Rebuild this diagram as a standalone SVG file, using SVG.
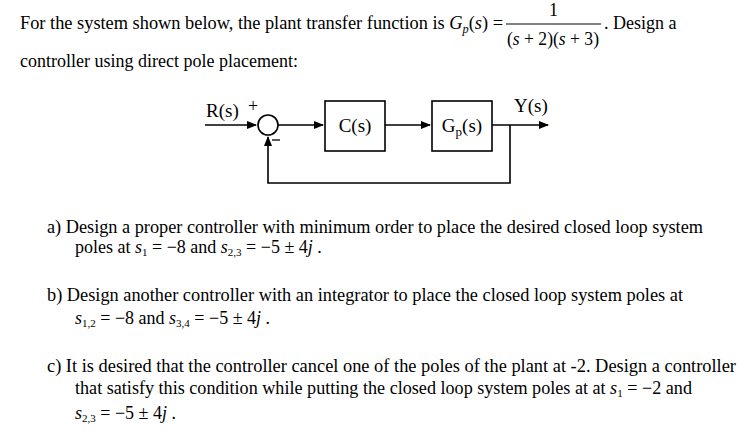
<svg xmlns="http://www.w3.org/2000/svg" width="746" height="445" viewBox="0 0 746 445">
<style>
text{font-family:"Liberation Serif",serif;font-size:18px;fill:#000}
.i{font-style:italic}
.l{stroke:#000;stroke-width:1.6;fill:none}
.b{stroke:#000;stroke-width:1.6;fill:#fff}
.d{font-size:19px}
</style>
<defs><marker id="a" markerWidth="10" markerHeight="8" refX="9" refY="4" orient="auto" markerUnits="userSpaceOnUse"><path d="M0,0L10,4L0,8z"/></marker></defs>
<rect width="746" height="445" fill="#fff"/>
<text x="20" y="29" textLength="483" lengthAdjust="spacingAndGlyphs">For the system shown below, the plant transfer function is <tspan class="i">G</tspan><tspan class="i" font-size="12" dy="4">p</tspan><tspan dy="-4">(</tspan><tspan class="i">s</tspan>) =</text>
<line x1="506" y1="24" x2="601" y2="24" stroke="#000" stroke-width="1"/>
<text x="549" y="16" font-size="14">1</text>
<text x="507" y="45" textLength="92" lengthAdjust="spacingAndGlyphs">(<tspan class="i">s</tspan> + 2)(<tspan class="i">s</tspan> + 3)</text>
<text x="604" y="29">.  Design a</text>
<text x="20" y="67">controller using direct pole placement:</text>
<g id="connectors">
<path class="l" d="M205,125H256" marker-end="url(#a)"/>
<path class="l" d="M278,125H323" marker-end="url(#a)"/>
<path class="l" d="M385,125H430" marker-end="url(#a)"/>
<path class="l" d="M492,125H548" marker-end="url(#a)"/>
<path class="l" d="M510,125V183H268V137" marker-end="url(#a)"/>
</g>
<g id="sum"><circle class="b" cx="268" cy="125" r="10"/></g>
<g id="C"><rect class="b" x="325" y="101" width="60" height="50"/><text class="d" x="355" y="132" text-anchor="middle">C(s)</text></g>
<g id="Gp"><rect class="b" x="432" y="101" width="60" height="50"/><text class="d" x="462" y="132" text-anchor="middle">G<tspan font-size="13" dy="4">p</tspan><tspan dy="-4">(s)</tspan></text></g>
<text class="d" x="206" y="117">R(s)</text>
<text x="248" y="112" font-size="17">+</text>
<line x1="272" y1="140" x2="280" y2="140" stroke="#000" stroke-width="1.3"/>
<text class="d" x="514" y="112">Y(s)</text>
<text x="47" y="233" textLength="656" lengthAdjust="spacingAndGlyphs">a)  Design a proper controller with minimum order to place the desired closed loop system</text>
<text x="75" y="253">poles at <tspan class="i">s</tspan><tspan font-size="11" dy="3">1</tspan><tspan dy="-3"> = −8 and </tspan><tspan class="i">s</tspan><tspan font-size="11" dy="3">2,3</tspan><tspan dy="-3"> = −5 ± 4</tspan><tspan class="i">j</tspan> .</text>
<text x="47" y="301" textLength="636" lengthAdjust="spacingAndGlyphs">b)  Design another controller with an integrator to place the closed loop system poles at</text>
<text x="75" y="324"><tspan class="i">s</tspan><tspan font-size="11" dy="3">1,2</tspan><tspan dy="-3"> = −8  and  </tspan><tspan class="i">s</tspan><tspan font-size="11" dy="3">3,4</tspan><tspan dy="-3"> = −5 ± 4</tspan><tspan class="i">j</tspan> .</text>
<text x="47" y="372" textLength="689" lengthAdjust="spacingAndGlyphs">c)  It is desired that the controller cancel one of the poles of the plant at -2.  Design a controller</text>
<text x="75" y="394" textLength="617" lengthAdjust="spacingAndGlyphs">that satisfy this condition while putting the closed loop system poles at at <tspan class="i">s</tspan><tspan font-size="11" dy="3">1</tspan><tspan dy="-3"> = −2  and</tspan></text>
<text x="75" y="419"><tspan class="i">s</tspan><tspan font-size="11" dy="3">2,3</tspan><tspan dy="-3"> = −5 ± 4</tspan><tspan class="i">j</tspan> .</text>
</svg>
